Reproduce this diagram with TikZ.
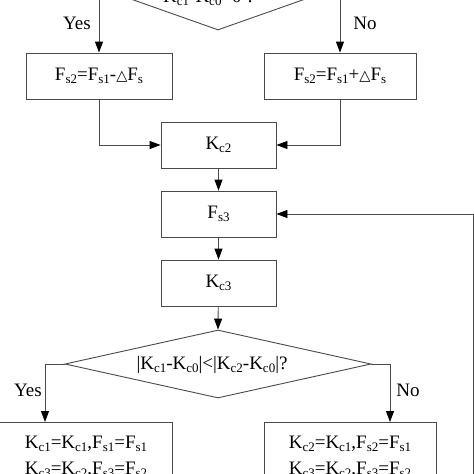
\documentclass[tikz,border=0pt]{standalone}
\usepackage{fontspec}
\setmainfont{Liberation Serif}
\newfontfamily\symfont{DejaVu Sans}
\usetikzlibrary{arrows.meta,shapes.geometric}
\newcommand{\sbs}[1]{\raisebox{-3pt}{\fontsize{13}{13}\selectfont #1}}
\newcommand{\tri}{{\symfont\fontsize{14.5}{14.5}\selectfont △}}
\definecolor{linegray}{HTML}{4a4a4a}
\begin{document}
\begin{tikzpicture}[x=1pt,y=-1pt,
  every node/.style={font=\fontsize{19}{26}\selectfont},
  box/.style={draw=linegray, line width=0.9pt, inner sep=0pt},
  dia/.style={draw=linegray, line width=0.9pt, diamond, inner sep=0pt, shape aspect=2.8},
  conn/.style={draw=linegray, line width=0.9pt},
  arr/.style={conn, -{Triangle[length=11pt,width=8pt,color=black]}},
  lbl/.style={inner sep=0pt}]
\useasboundingbox (0,0) rectangle (474,474);
\clip (0,0) rectangle (474,474);
% top diamond
\node[dia, minimum width=192pt, minimum height=68pt] (d1) at (218,-4) {};
\node[lbl, anchor=base west] (d1t) at (163,2.5) {K\sbs{c1}-K\sbs{c0}>0 ?};
% boxes
\node[box, minimum width=146pt, minimum height=46pt] (fl) at (99,76) {F\sbs{s2}=F\sbs{s1}-\tri F\sbs{s}};
\node[box, minimum width=152pt, minimum height=46pt] (fr) at (340,76) {F\sbs{s2}=F\sbs{s1}+\tri F\sbs{s}};
\node[box, minimum width=115pt, minimum height=46pt] (kc2) at (218.5,145) {K\sbs{c2}};
\node[box, minimum width=115pt, minimum height=46pt] (fs3) at (218.5,214) {F\sbs{s3}};
\node[box, minimum width=115pt, minimum height=46pt] (kc3) at (218.5,283) {K\sbs{c3}};
% lower diamond
\node[dia, minimum width=306pt, minimum height=68pt] (d2) at (218,364) {};
\node[lbl, anchor=base] (d2t) at (212,369) {|K\sbs{c1}-K\sbs{c0}|<|K\sbs{c2}-K\sbs{c0}|?};
% bottom boxes
\node[box, minimum width=176pt, minimum height=100pt, anchor=north] (bl) at (84,422) {};
\node[box, minimum width=172pt, minimum height=100pt, anchor=north] (br) at (350,422) {};
\node[lbl, align=center, anchor=north] (blt) at (86,436) {K\sbs{c1}=K\sbs{c1},F\sbs{s1}=F\sbs{s1}\\K\sbs{c3}=K\sbs{c2},F\sbs{s3}=F\sbs{s2}};
\node[lbl, align=center, anchor=north] (brt) at (350,436) {K\sbs{c2}=K\sbs{c1},F\sbs{s2}=F\sbs{s1}\\K\sbs{c3}=K\sbs{c2},F\sbs{s3}=F\sbs{s2}};
% labels
\node[lbl] (y1) at (77,23) {Yes};
\node[lbl] (n1) at (365,23) {No};
\node[lbl] (y2) at (28,390) {Yes};
\node[lbl] (n2) at (408,390) {No};
% connectors
\draw[arr] (d1.west) -| (fl.north);
\draw[arr] (d1.east) -| (fr.north);
\draw[arr] (fl.south) |- (kc2.west);
\draw[arr] (fr.south) |- (kc2.east);
\draw[arr] (kc2) -- (fs3);
\draw[arr] (fs3) -- (kc3);
\draw[arr] (kc3) -- (d2.north);
\coordinate (yl) at (45,422);
\coordinate (nl) at (390,422);
\draw[arr] (d2.west) -| (yl);
\draw[arr] (d2.east) -| (nl);
\coordinate (fb) at (473,490);
\draw[arr] (fb) |- (fs3.east);
\end{tikzpicture}
\end{document}
